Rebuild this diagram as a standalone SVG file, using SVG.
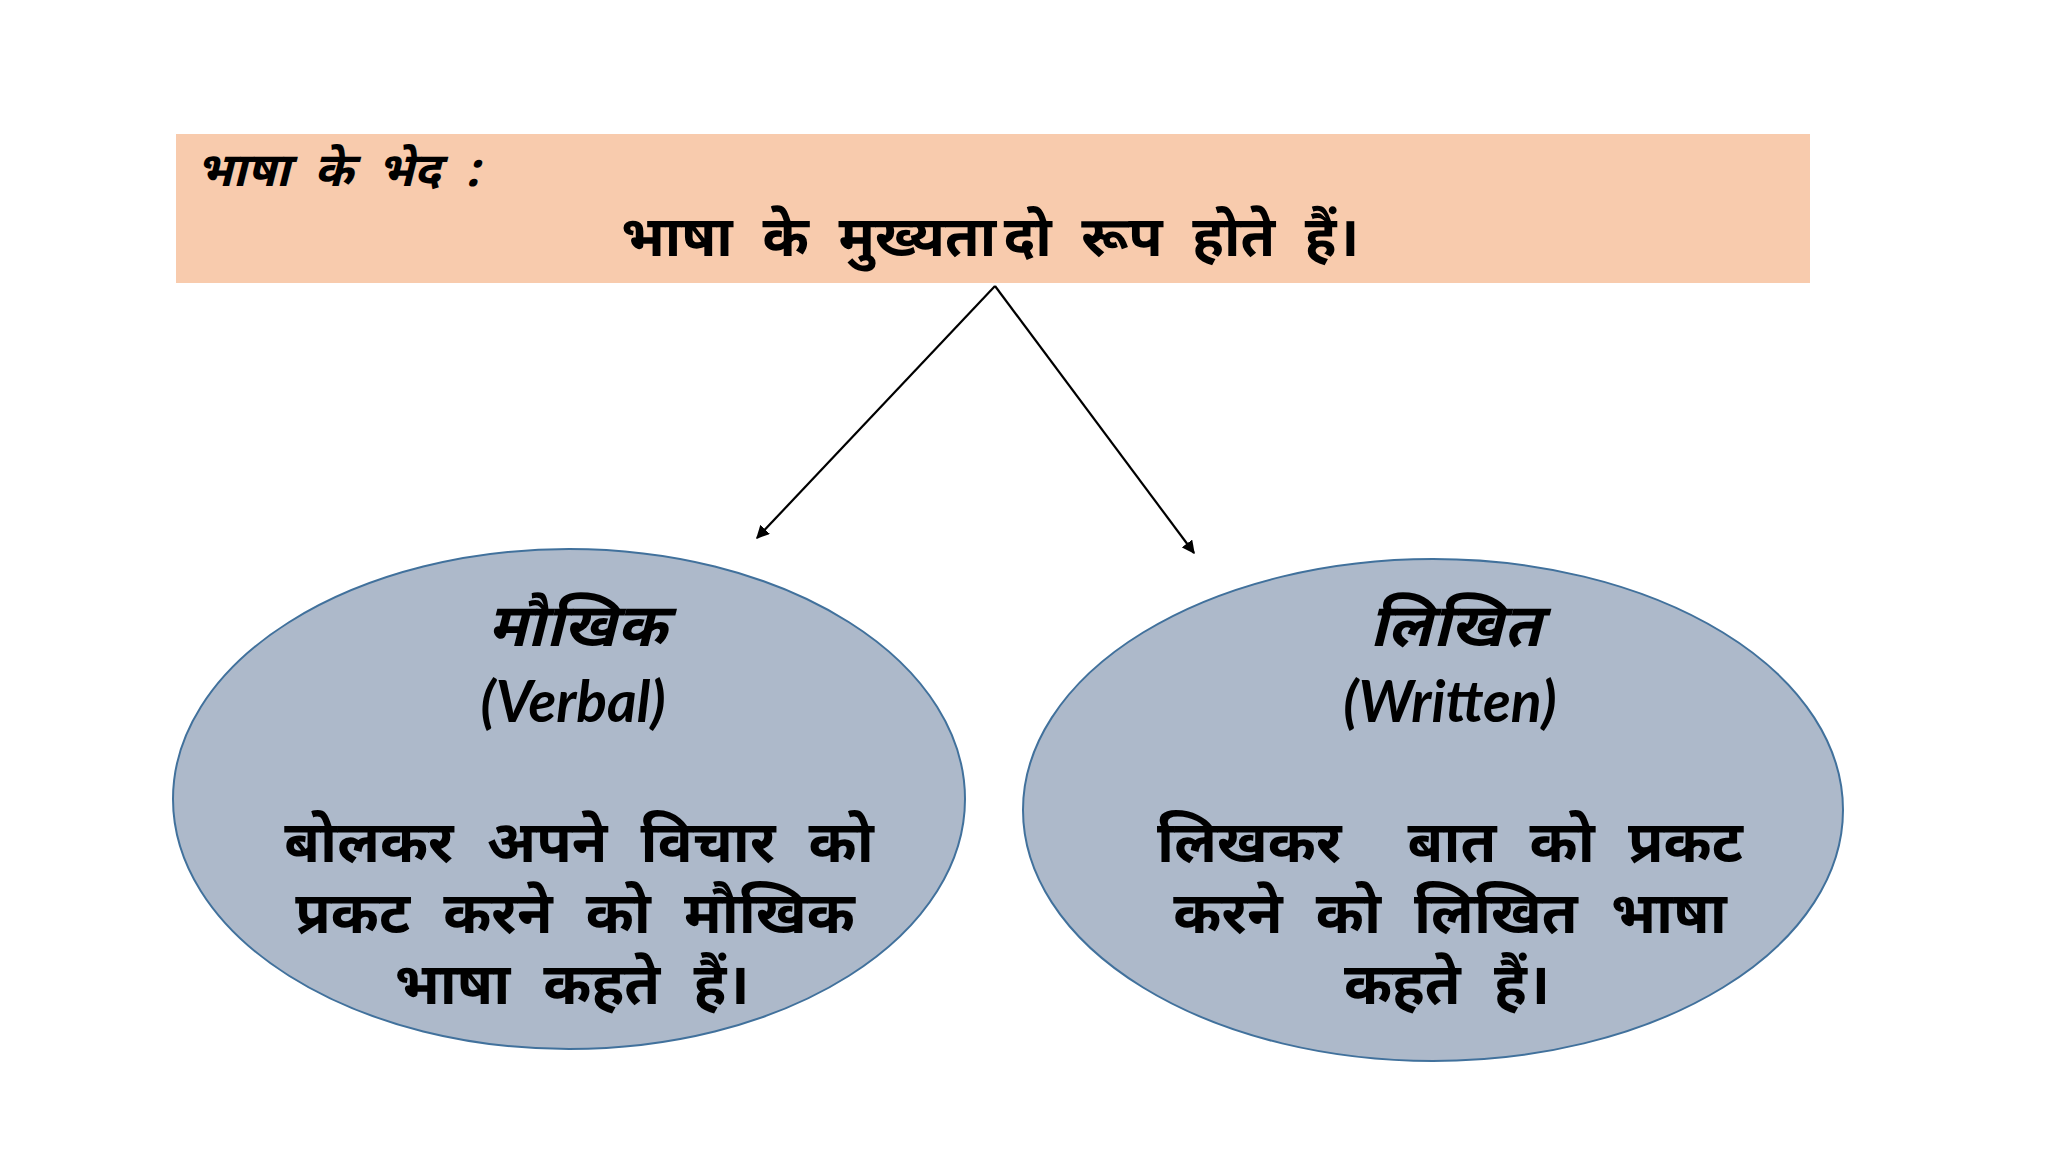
<svg xmlns="http://www.w3.org/2000/svg" width="2048" height="1152" viewBox="0 0 2048 1152">
<style>
.dev{font-family:"Noto Sans Devanagari","Noto Sans","Lato",sans-serif;fill:#000;}
.bold{font-weight:bold;}
.lat{font-family:"Lato","Open Sans","Liberation Sans",sans-serif;font-style:italic;font-weight:bold;fill:#000;font-size:57px;}
.ell{fill:#ADB9CA;stroke:#41719C;stroke-width:2;}
.conn{stroke:#000;stroke-width:2.2;fill:none;marker-end:url(#ah);}
.body{font-size:58px;word-spacing:18px;}
.head{font-size:60px;font-style:italic;letter-spacing:1px;}
</style>
<defs>
<marker id="ah" viewBox="0 0 10 10" refX="9" refY="5" markerWidth="6" markerHeight="6" orient="auto" markerUnits="strokeWidth">
<path d="M0,0 L10,5 L0,10 z" fill="#000"/>
</marker>
</defs>
<rect width="2048" height="1152" fill="#fff"/>
<g id="banner">
<rect x="176" y="134" width="1634" height="149" fill="#F8CBAD"/>
<text class="dev bold" x="196" y="186" font-size="47" font-style="italic" word-spacing="12">भाषा के भेद :</text>
<text class="dev bold" x="990" y="256" font-size="56" word-spacing="15" text-anchor="middle">भाषा के मुख्यता <tspan dx="-22">दो रूप होते हैं।</tspan></text>
</g>
<g id="connectors">
<line class="conn" x1="995" y1="286" x2="757" y2="538"/>
<line class="conn" x1="995" y1="286" x2="1194" y2="553"/>
</g>
<g id="verbal">
<ellipse class="ell" cx="569" cy="799" rx="396" ry="250"/>
<text class="dev bold head" x="578" y="646" text-anchor="middle">मौखिक</text>
<text class="lat" x="573" y="722" text-anchor="middle">(Verbal)</text>
<text class="dev bold body" text-anchor="middle"><tspan x="579" y="862">बोलकर अपने विचार को</tspan><tspan x="575" y="933">प्रकट करने को मौखिक</tspan><tspan x="572" y="1004">भाषा कहते हैं।</tspan></text>
</g>
<g id="written">
<ellipse class="ell" cx="1433" cy="810" rx="410" ry="251"/>
<text class="dev bold head" x="1456" y="646" text-anchor="middle">लिखित</text>
<text class="lat" x="1450" y="722" text-anchor="middle">(Written)</text>
<text class="dev bold body" text-anchor="middle" xml:space="preserve"><tspan x="1450" y="862">लिखकर  बात को प्रकट</tspan><tspan x="1450" y="933">करने को लिखित भाषा</tspan><tspan x="1447" y="1004">कहते हैं।</tspan></text>
</g>
</svg>
